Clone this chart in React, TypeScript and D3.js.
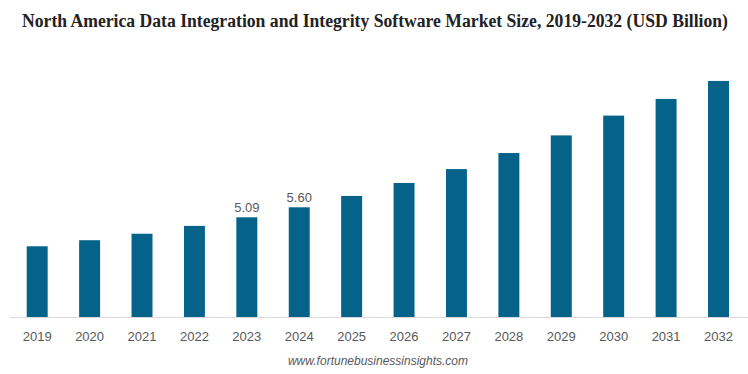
import React from 'react';
import * as d3 from 'd3';

const years = ['2019', '2020', '2021', '2022', '2023', '2024', '2025', '2026', '2027', '2028', '2029', '2030', '2031', '2032'];
const marketSize = [3.61, 3.92, 4.25, 4.65, 5.09, 5.60, 6.18, 6.84, 7.55, 8.37, 9.27, 10.28, 11.13, 12.05];
const labelledYears = ['2023', '2024'];

const W = 748;
const H = 374;
const title = 'North America Data Integration and Integrity Software Market Size, 2019-2032 (USD Billion)';
const source = 'www.fortunebusinessinsights.com';

export default function App() {
  const base = 317;

  const x = d3.scaleBand<string>()
    .domain(years)
    .range([11, 744.7])
    .paddingInner(0.6)
    .paddingOuter(0.3);

  // 5.09 -> ~100px tall bar
  const y = d3.scaleLinear()
    .domain([0, 1])
    .range([base, base - 19.59]);

  return (
    <svg width={W} height={H} style={{ position: 'absolute', left: 0, top: 0, background: '#fff' }}>
      <text x={375} y={27} textAnchor="middle"
            fontFamily="'Liberation Serif', 'Times New Roman', serif"
            fontWeight="bold" fontSize={18} fill="#222"
            textLength={706} lengthAdjust="spacingAndGlyphs">
        {title}
      </text>

      {years.map((yr, i) => (
        <rect key={yr}
              x={x(yr)}
              y={y(marketSize[i])}
              width={x.bandwidth()}
              height={base - y(marketSize[i])}
              fill="#05638a" />
      ))}

      <line x1={10} x2={748} y1={base + 0.5} y2={base + 0.5} stroke="#d9d9d9" strokeWidth={1} />

      {years.map((yr, i) => (
        <text key={'t' + yr}
              x={(x(yr) as number) + x.bandwidth() / 2}
              y={341}
              textAnchor="middle"
              fontFamily="'Liberation Sans', Arial, sans-serif"
              fontSize={13} fill="#595959">
          {yr}
        </text>
      ))}

      {years.map((yr, i) => labelledYears.includes(yr) && (
        <text key={'v' + yr}
              x={(x(yr) as number) + x.bandwidth() / 2}
              y={y(marketSize[i]) - 5}
              textAnchor="middle"
              fontFamily="'Liberation Sans', Arial, sans-serif"
              fontSize={13} fill="#595959">
          {marketSize[i].toFixed(2)}
        </text>
      ))}

      <text x={378} y={365} textAnchor="middle"
            fontFamily="'Liberation Sans', Arial, sans-serif"
            fontStyle="italic" fontSize={12} fill="#595959">
        {source}
      </text>
    </svg>
  );
}
